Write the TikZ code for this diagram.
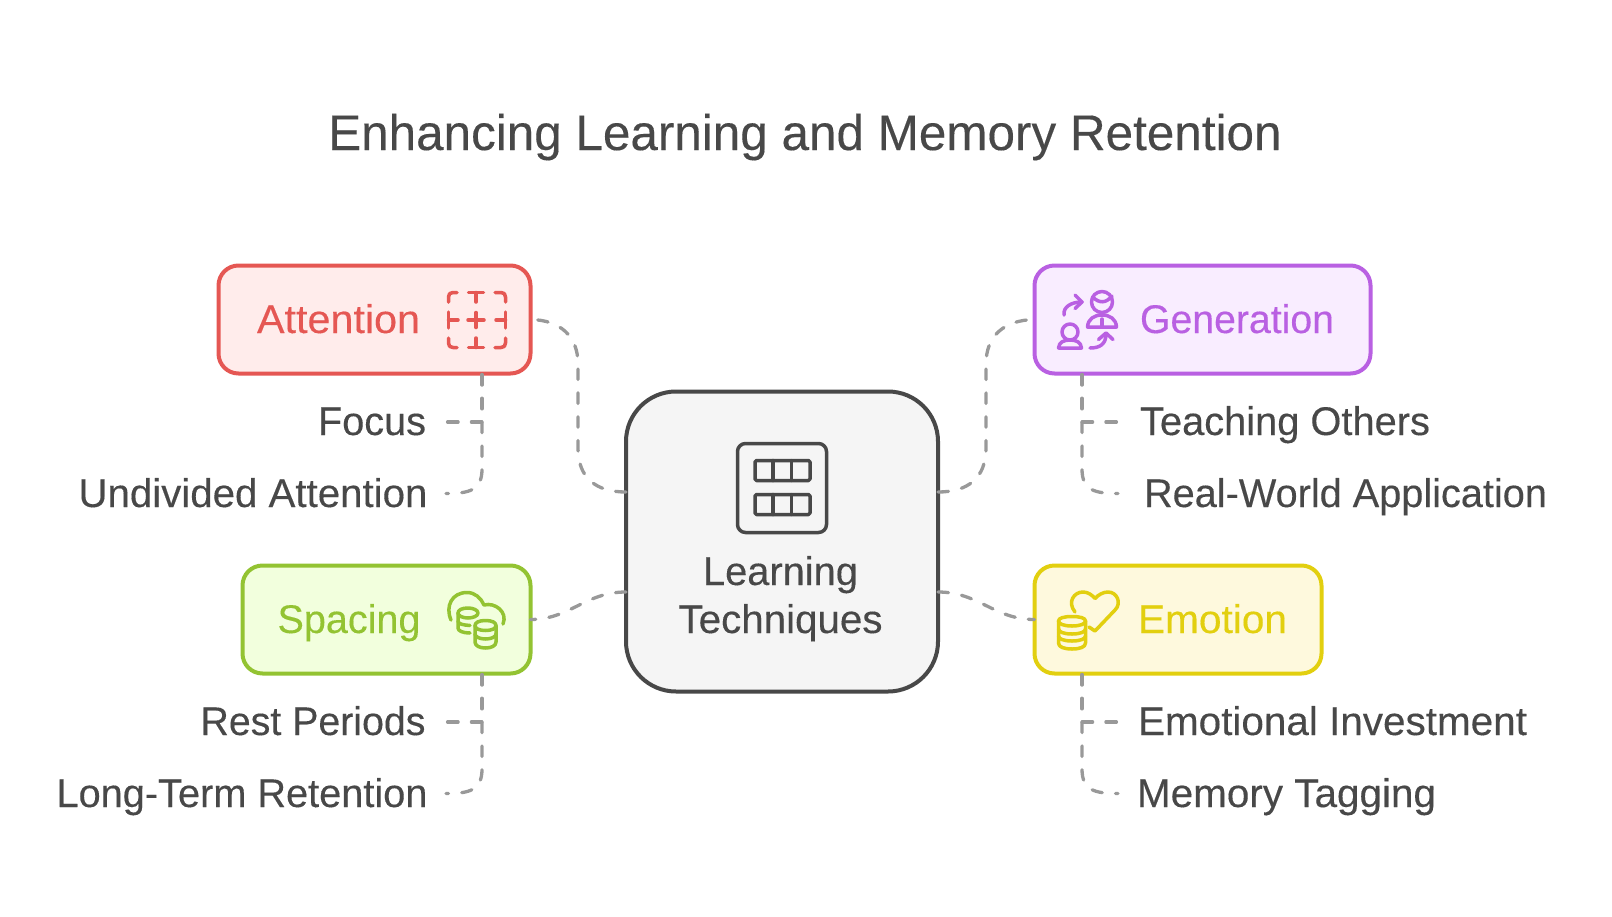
\documentclass[tikz,border=0pt]{standalone}
\usepackage{graphicx}
\usepackage{fontspec}
\setmainfont[FakeBold=0.25]{Liberation Sans}
\definecolor{inkc}{HTML}{484848}
\definecolor{linkc}{HTML}{999999}
\definecolor{redS}{HTML}{E55753}\definecolor{redF}{HTML}{FFECEB}
\definecolor{purS}{HTML}{B960E2}\definecolor{purF}{HTML}{F9EDFF}
\definecolor{grnS}{HTML}{93C332}\definecolor{grnF}{HTML}{F2FFDD}
\definecolor{yelS}{HTML}{E2CF0F}\definecolor{yelF}{HTML}{FEF9DD}
\definecolor{cenF}{HTML}{F5F5F5}
\newcommand\fitw[2]{\sbox0{#2}\pgfmathsetmacro\fr{#1/\the\wd0}\scalebox{\fr}[1]{\usebox0}}
\tikzset{
  box/.style={draw,line width=4pt,rounded corners=20pt,inner sep=0pt,outer sep=0pt},
  lbl/.style={inner sep=0pt,outer sep=0pt,font=\fontsize{40}{48}\selectfont,text=inkc},
  lw/.style={lbl,anchor=base west},
  le/.style={lbl,anchor=base east},
  link/.style={draw=linkc,line width=3.3pt,dash pattern=on 10.5pt off 13.3pt,line cap=round},
  ico/.style={line width=3.5pt,line cap=round,line join=round},
}
\begin{document}
\begin{tikzpicture}[x=1pt,y=-1pt]
\useasboundingbox (0,0) rectangle (1612,916);
% nodes
\node[inner sep=0pt,anchor=base west,font=\fontsize{50}{60}\selectfont,text=inkc] (title) at (328,150) {\fitw{953.5}{Enhancing Learning and Memory Retention}};
\node[box,draw=inkc,fill=cenF,rounded corners=50pt,minimum width=312pt,minimum height=300pt] (cen) at (782,541.5) {};
\node[box,draw=redS,fill=redF,minimum width=312pt,minimum height=108pt] (att) at (374.5,319.5) {};
\node[box,draw=purS,fill=purF,minimum width=336pt,minimum height=108pt] (gen) at (1202.5,319.5) {};
\node[box,draw=grnS,fill=grnF,minimum width=288pt,minimum height=108pt] (spa) at (386.5,619.5) {};
\node[box,draw=yelS,fill=yelF,minimum width=287pt,minimum height=108pt] (emo) at (1178,619.5) {};
% box titles
\node[lw,text=redS] (tatt) at (257,333) {\fitw{163}{Attention}};
\node[lw,text=purS] (tgen) at (1140,333) {\fitw{194}{Generation}};
\node[lw,text=grnS] (tspa) at (277.5,633) {\fitw{143}{Spacing}};
\node[lw,text=yelS] (temo) at (1138,633) {\fitw{149}{Emotion}};
\node[lbl,align=center,anchor=base] (tcen) at (780.5,633) {\fitw{155}{Learning}\\\fitw{204}{Techniques}};
% leaves
\node[le] (a1) at (426,435) {\fitw{108}{Focus}};
\node[le] (a2) at (427.5,507) {\fitw{349}{Undivided Attention}};
\node[lw] (g1) at (1140,435) {\fitw{290}{Teaching Others}};
\node[lw] (g2) at (1144,507) {\fitw{403}{Real-World Application}};
\node[le] (s1) at (425.5,735) {\fitw{225}{Rest Periods}};
\node[le] (s2) at (427.5,807) {\fitw{371}{Long-Term Retention}};
\node[lw] (e1) at (1138,735) {\fitw{389}{Emotional Investment}};
\node[lw] (e2) at (1137,807) {\fitw{299}{Memory Tagging}};
% anchors for connectors
\coordinate (cw1) at ([yshift=49.5pt]cen.west);
\coordinate (cw2) at ([yshift=-50.5pt]cen.west);
\coordinate (ce1) at ([yshift=49.5pt]cen.east);
\coordinate (ce2) at ([yshift=-50.5pt]cen.east);
\coordinate (atop) at (482,374.5);\coordinate (gtop) at (1082,374.5);
\coordinate (stop) at (482,674.5);\coordinate (etop) at (1082,674.5);
\coordinate (a1e) at (447,422);\coordinate (a2e) at (446,493.5);
\coordinate (g1e) at (1118,422);\coordinate (g2e) at (1118,493.5);
\coordinate (s1e) at (447,722);\coordinate (s2e) at (446,793.5);
\coordinate (e1e) at (1118,722);\coordinate (e2e) at (1118,793.5);
% connectors
\draw[link] (cw1) .. controls (596,492) and (578,478) .. (578,448) -- (578,364) .. controls (578,336) and (560,320) .. (att.east);
\draw[link] (ce1) .. controls (968,492) and (986,478) .. (986,448) -- (986,364) .. controls (986,336) and (1004,320) .. (gen.west);
\draw[link] (cw2) .. controls (585,592) and (570,619.5) .. (spa.east);
\draw[link] (ce2) .. controls (979,592) and (994,619.5) .. (emo.west);
\draw[link] (atop) -- (482,422) -- (a1e);
\draw[link] (atop) -- (482,469) .. controls (482,490) and (470,493.5) .. (a2e);
\draw[link] (gtop) -- (1082,422) -- (g1e);
\draw[link] (gtop) -- (1082,469) .. controls (1082,490) and (1094,493.5) .. (g2e);
\draw[link] (stop) -- (482,722) -- (s1e);
\draw[link] (stop) -- (482,769) .. controls (482,790) and (470,793.5) .. (s2e);
\draw[link] (etop) -- (1082,722) -- (e1e);
\draw[link] (etop) -- (1082,769) .. controls (1082,790) and (1094,793.5) .. (e2e);
% centre icon
\begin{scope}[ico,draw=inkc]
\draw[rounded corners=8pt] (737.5,443.5) rectangle (826.5,532.5);
\draw[rounded corners=1.5pt] (755,460.5) rectangle (810,480.5);
\draw[rounded corners=1.5pt] (755,494.5) rectangle (810,514.5);
\draw (773,460.5)--(773,480.5) (791.5,460.5)--(791.5,480.5) (773,494.5)--(773,514.5) (791.5,494.5)--(791.5,514.5);
\end{scope}
% attention icon
\begin{scope}[ico,draw=redS]
\draw (448.5,302) -- (448.5,297) .. controls (448.5,294) and (450,292.5) .. (453,292.5) -- (457,292.5);
\draw (495,292.5) -- (501,292.5) .. controls (504,292.5) and (505.5,294) .. (505.5,297) -- (505.5,302);
\draw (448.5,338) -- (448.5,343) .. controls (448.5,346) and (450,347.5) .. (453,347.5) -- (457,347.5);
\draw (495,347.5) -- (501,347.5) .. controls (504,347.5) and (505.5,346) .. (505.5,343) -- (505.5,338);
\draw (468.5,292.5) -- (483.5,292.5) (476,292.5) -- (476,302);
\draw (468.5,347.5) -- (483.5,347.5) (476,347.5) -- (476,338);
\draw (448.5,312) -- (448.5,328) (448.5,320) -- (458,320);
\draw (505.5,312) -- (505.5,328) (505.5,320) -- (496,320);
\draw (468,320) -- (484,320) (476,312.5) -- (476,327.5);
\end{scope}
% generation icon
\begin{scope}[ico,draw=purS]
\draw (1102,302) circle (10.5);
\draw (1092.5,297) .. controls (1100,304) and (1106,303) .. (1112,296);
\draw (1087.5,327) .. controls (1088,319) and (1094,315) .. (1102,315) .. controls (1110,315) and (1116,319) .. (1116.5,327) -- cycle;
\draw (1102,319) -- (1102,326);
\draw (1070,332) circle (8);
\draw (1058.5,348) .. controls (1059,342) and (1064,340) .. (1070,340) .. controls (1076,340) and (1081,342) .. (1081.5,348) -- cycle;
\draw (1064,315) .. controls (1063,307) and (1071,302) .. (1082,302);
\draw (1075,295) -- (1082,302) -- (1075,308.5);
\draw (1090,348) .. controls (1100,348) and (1106,344) .. (1106,334);
\draw (1098.5,339.5) -- (1106,333) -- (1113,339.5);
\end{scope}
% spacing icon
\begin{scope}[ico,draw=grnS]
\draw (451,620) .. controls (445,606) and (452,592.5) .. (467,592.5) .. controls (475,592.5) and (481,598) .. (484,605) .. controls (495,602) and (508,612) .. (503,624);
\draw (478,613) .. controls (478,610) and (473,608) .. (468,608) .. controls (462,608) and (458,610) .. (458,613) .. controls (458,616) and (463,618) .. (468,618) .. controls (473,618) and (478,616) .. (478,613);
\draw (458,613) -- (458,628) .. controls (458,631) and (463,633) .. (470,633);
\draw (458,621) .. controls (458,624) and (463,625) .. (470,625.5);
\draw (485.5,620.5) .. controls (479,620.5) and (475,622.5) .. (475,625.5) .. controls (475,628.5) and (479,630.5) .. (485.5,630.5) .. controls (492,630.5) and (496,628.5) .. (496,625.5) .. controls (496,622.5) and (492,620.5) .. (485.5,620.5) -- cycle;
\draw (475,625.5) -- (475,642) .. controls (475,646) and (480,648) .. (485.5,648) .. controls (491,648) and (496,646) .. (496,642) -- (496,625.5);
\draw (475,634) .. controls (475,637) and (480,639) .. (485.5,639) .. controls (491,639) and (496,637) .. (496,634);
\end{scope}
% emotion icon
\begin{scope}[ico,draw=yelS]
\draw (1075,612) .. controls (1067,602) and (1074,592) .. (1083,592) .. controls (1088,592) and (1092,595) .. (1095,598.5) .. controls (1098,595) and (1103,592) .. (1108,592) .. controls (1117,592) and (1122,603) .. (1115,610) -- (1095,631) -- (1089,627);
\draw (1072,616.5) .. controls (1064,616.5) and (1058.5,618) .. (1058.5,621) .. controls (1058.5,624) and (1064,626) .. (1072,626) .. controls (1080,626) and (1085.5,624) .. (1085.5,621) .. controls (1085.5,618) and (1080,616.5) .. (1072,616.5) -- cycle;
\draw (1058.5,621) -- (1058.5,643) .. controls (1058.5,647) and (1064,649) .. (1072,649) .. controls (1080,649) and (1085.5,647) .. (1085.5,643) -- (1085.5,621);
\draw (1058.5,629) .. controls (1058.5,632) and (1064,634) .. (1072,634) .. controls (1080,634) and (1085.5,632) .. (1085.5,629);
\draw (1058.5,636) .. controls (1058.5,639) and (1064,641) .. (1072,641) .. controls (1080,641) and (1085.5,639) .. (1085.5,636);
\end{scope}
\end{tikzpicture}
\end{document}
